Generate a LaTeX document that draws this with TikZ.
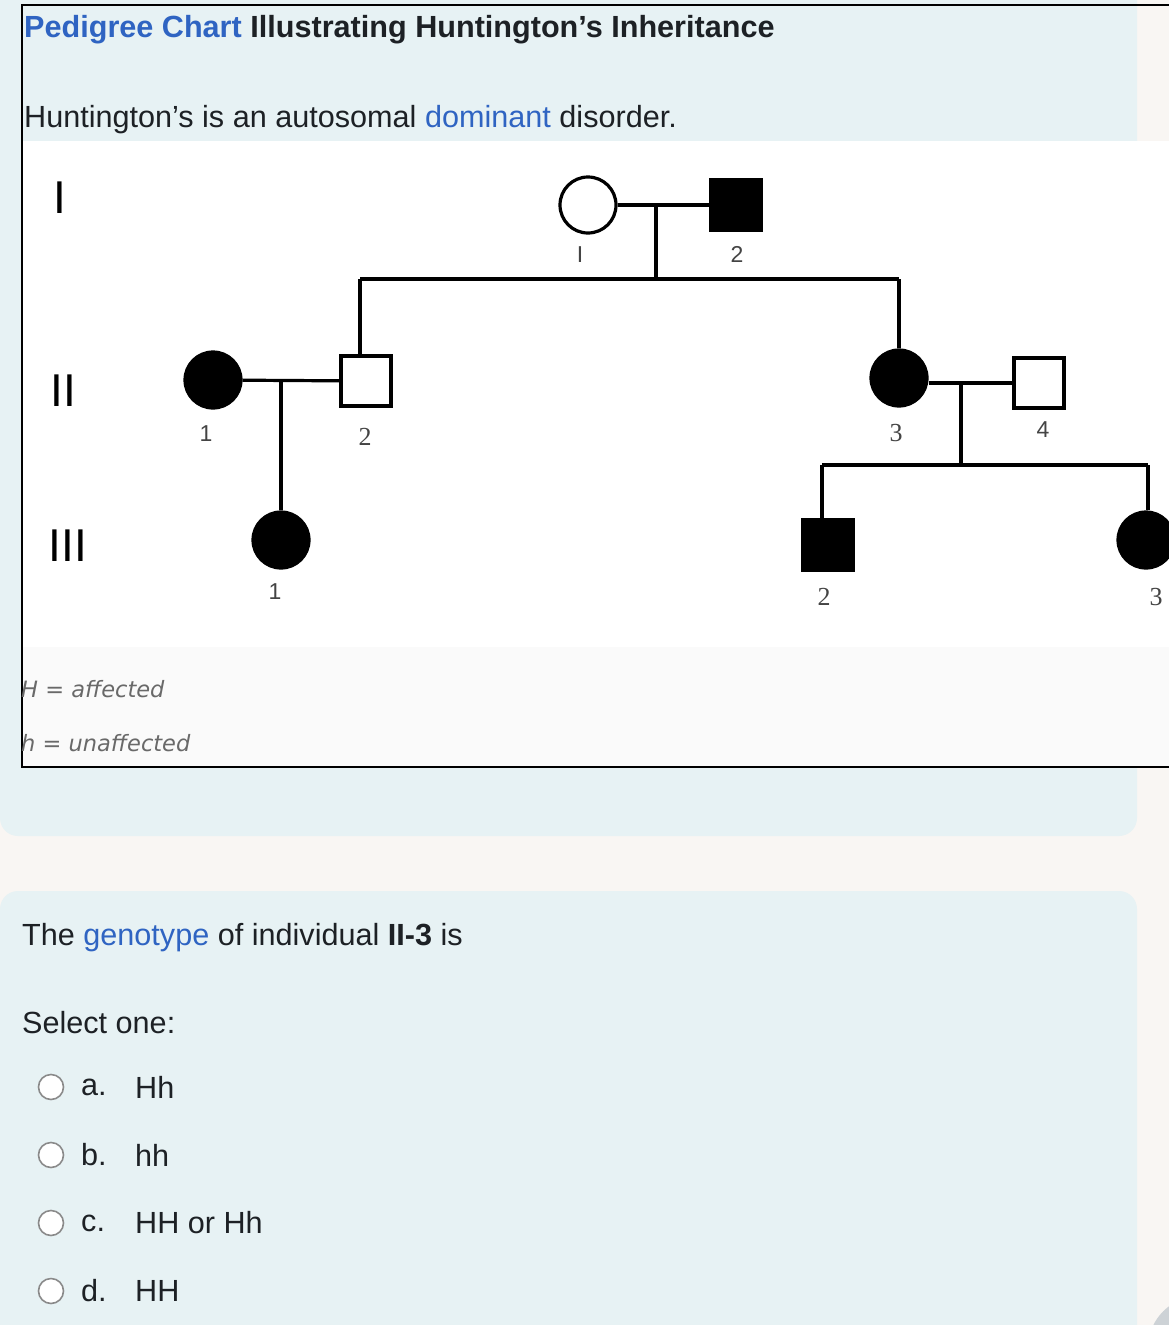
\documentclass[tikz,border=0pt]{standalone}
\usepackage{fontspec}
\setmainfont{Liberation Sans}
\newfontfamily\serifdig{Liberation Serif}
\newfontfamily\legfont{DejaVu Sans}
\definecolor{pagebg}{HTML}{F9F6F3}
\definecolor{panel}{HTML}{E7F2F4}
\definecolor{legbg}{HTML}{FAFAFA}
\definecolor{linkblue}{HTML}{2F64C2}
\definecolor{txt}{HTML}{1D2125}
\definecolor{lab}{HTML}{444444}
\definecolor{radio}{HTML}{8A8A8A}
\definecolor{blob}{HTML}{CDD2D6}
\tikzset{
  ped/.style={line width=3.2pt,draw=black},
  fem/.style={circle,draw=black,line width=3.2pt,minimum size=56pt,inner sep=0pt},
  mal/.style={rectangle,draw=black,line width=3.2pt,minimum size=50pt,inner sep=0pt},
  aff/.style={fill=black},
  unaff/.style={fill=white},
  lbl/.style={text=lab,font=\fontsize{23}{25}\selectfont,inner sep=0pt},
  slbl/.style={text=lab,font=\serifdig\fontsize{26}{28}\selectfont,inner sep=0pt},
  gen/.style={text=black,font=\fontsize{46}{48}\selectfont,inner sep=0pt},
  body/.style={text=txt,font=\fontsize{30.6}{34}\selectfont,anchor=west,inner sep=0pt},
  opt/.style={circle,draw=radio,line width=1.6pt,fill=white,minimum size=25pt,inner sep=0pt},
  leg/.style={text=lab!80,font=\legfont\itshape\fontsize{22.5}{24}\selectfont,anchor=west,inner sep=0pt},
}
\begin{document}
\begin{tikzpicture}[x=1pt,y=-1pt]
\useasboundingbox (0,0) rectangle (1169,1325);
\fill[pagebg] (0,0) rectangle (1169,1325);
\fill[panel,rounded corners=18pt] (0,-30) rectangle (1137,836);
\fill[panel,rounded corners=18pt] (0,891) rectangle (1137,1360);
\fill[white] (22,141) rectangle (1169,647);
\fill[legbg] (22,647) rectangle (1169,767);
\fill[blob] (1200,1348) circle (52);
\draw[line width=2pt] (1175,5) -- (22,5) -- (22,767) -- (1175,767);

% title
\node[body,font=\bfseries\fontsize{30.6}{34}\selectfont] (title) at (24,30) {\textcolor{linkblue}{Pedigree Chart} Illustrating Huntington’s Inheritance};
\node[body] (sub) at (24,120) {Huntington’s is an autosomal \textcolor{linkblue}{dominant} disorder.};

% generation numerals
\node[gen] (g1) at (60,198) {I};
\node[gen] (g2) at (63,391) {II};
\node[gen] (g3) at (68,546) {III};

% individuals
\node[fem,unaff] (i1) at (588,205) {};
\node[mal,aff] (i2) at (736,205) {};
\node[fem,aff] (ii1) at (213,380) {};
\node[mal,unaff] (ii2) at (366,381) {};
\node[fem,aff] (ii3) at (899,378) {};
\node[mal,unaff] (ii4) at (1039,383) {};
\node[fem,aff] (iii1) at (281,540) {};
\node[mal,aff] (iii2) at (828,545) {};
\node[fem,aff] (iii3) at (1146,540) {};

% connectors
\coordinate (m1) at (656,205);
\coordinate (s1) at (656,279);
\coordinate (s1l) at (360,279);
\coordinate (s1r) at (899,279);
\coordinate (m2) at (281,380);
\coordinate (m3) at (961,383);
\coordinate (s3) at (961,465);
\coordinate (s3l) at (822,465);
\coordinate (s3r) at (1148,465);
\draw[ped] (i1) -- (i2);
\draw[ped] (m1) -- (s1);
\draw[ped] (s1l) -- (s1r);
\draw[ped] (s1l) -- (s1l |- ii2.north);
\draw[ped] (s1r) -- (ii3);
\draw[ped] (ii1) -- (ii2);
\draw[ped] (m2) -- (iii1);
\draw[ped] (ii3.east |- m3) -- (ii4.west |- m3);
\draw[ped] (m3) -- (s3);
\draw[ped] (s3l) -- (s3r);
\draw[ped] (s3l) -- (s3l |- iii2.north);
\draw[ped] (s3r) -- (s3r |- iii3.north);

% labels
\node[lbl] (l1) at (580,255) {I};
\node[lbl] (l2) at (737,254) {2};
\node[lbl] (l3) at (206,434) {1};
\node[slbl] (l4) at (365,437) {2};
\node[slbl] (l5) at (896,433) {3};
\node[lbl] (l6) at (1043,430) {4};
\node[lbl] (l7) at (275,592) {1};
\node[slbl] (l8) at (824,597) {2};
\node[slbl] (l9) at (1156,597) {3};

% legend
\node[leg] (h1) at (21,689) {H = affected};
\node[leg] (h2) at (21,743) {h = unaffected};

% question
\node[body] (q) at (22,938) {The \textcolor{linkblue}{genotype} of individual \textbf{II-3} is};
\node[body] (sel) at (22,1023) {Select one:};
\foreach \y/\l/\t [count=\i] in {1087/a./Hh,1155/b./hh,1223/c./HH or Hh,1291/d./HH}{
  \node[opt] (r\i) at (51,\y) {};
  \node[body] (ol\i) at (81,\y) {\l};
  \node[body] (ot\i) at (135,\y) {\t};
}
\end{tikzpicture}
\end{document}
